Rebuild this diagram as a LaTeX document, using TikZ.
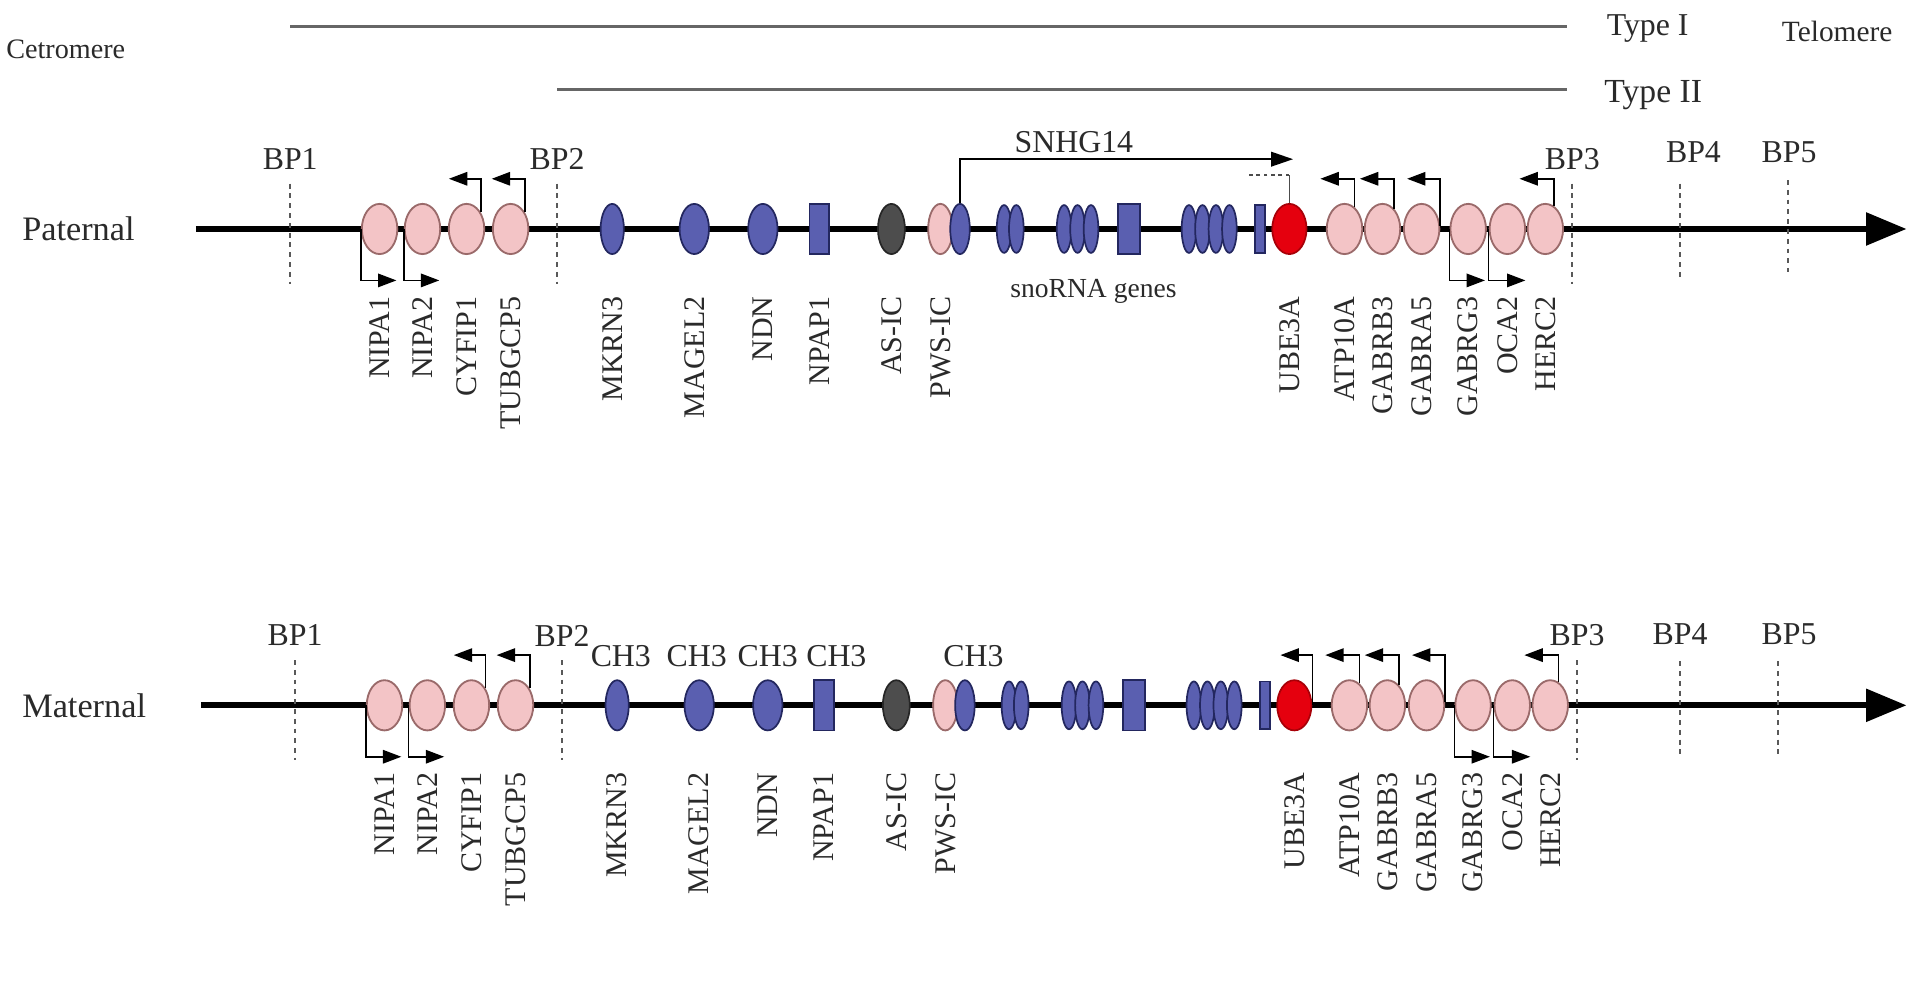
\documentclass[tikz,border=0pt]{standalone}
\usepackage{fontspec}
\setmainfont{Liberation Serif}
\usetikzlibrary{arrows.meta,calc,shapes.geometric}
\definecolor{txt}{HTML}{2A2A2A}
\definecolor{pinkf}{HTML}{F3C4C6}
\definecolor{pinkd}{HTML}{9A6A6A}
\definecolor{bluef}{HTML}{5A5FB0}
\definecolor{blued}{HTML}{23275F}
\definecolor{grayf}{HTML}{4D4D4D}
\definecolor{redf}{HTML}{E5000E}
\definecolor{redd}{HTML}{A80008}
\tikzset{
 chrom/.style={line width=4.8pt,-{Triangle[length=33pt,width=26pt]}},
 typeline/.style={draw=black!60,line width=2.5pt},
 bpline/.style={draw=black!65,line width=1.5pt,dash pattern=on 4pt off 4pt},
 bplab/.style={font=\fontsize{26}{26}\selectfont,text=txt,inner sep=0pt},
 rowlab/.style={font=\fontsize{26}{26}\selectfont,text=txt,inner sep=0pt,anchor=west},
 pg/.style={ellipse,draw=pinkd,fill=pinkf,line width=1.5pt,minimum width=29pt,minimum height=41pt,inner sep=0pt},
 bg/.style={ellipse,draw=blued,fill=bluef,line width=1.4pt,minimum height=41pt,inner sep=0pt},
 sno/.style={bg,minimum width=12pt,minimum height=39pt},
 br/.style={rectangle,draw=blued,fill=bluef,line width=1.4pt,minimum height=41pt,inner sep=0pt},
 gg/.style={ellipse,draw=black!85,fill=grayf,line width=1.4pt,minimum width=22pt,minimum height=41pt,inner sep=0pt},
 rg/.style={ellipse,draw=redd,fill=redf,line width=1.4pt,minimum width=28pt,minimum height=41pt,inner sep=0pt},
 glab/.style={rotate=90,anchor=east,font=\fontsize{24.5}{24.5}\selectfont,text=txt,inner sep=0pt},
 tss/.style={line width=1.3pt,-{Triangle[length=15pt,width=11pt]}},
 snarrow/.style={line width=1.4pt,-{Triangle[length=18pt,width=12pt]}},
 stub/.style={draw=black!70,line width=0.9pt},
 dotstub/.style={draw=black!70,line width=1.2pt,dash pattern=on 3pt off 3pt},
}
\newcommand\generow[4]{%
\begin{scope}[shift={(#3,#2)}]
\coordinate (#1up) at (0,-41);
\coordinate (#1dn) at (0,42);
\coordinate (#1lab) at (0,55);
\coordinate (#1bpt) at (0,-37);
\coordinate (#1bpb) at (0,45);
\coordinate (#1bpl) at (0,-57);
\coordinate (#1start) at (160,0);
\coordinate (#1end) at ({1557-#3},0);
\node[rowlab,font=\fontsize{28}{28}\selectfont] (#1name) at ({18-#3},0) {#4};
\draw[chrom] (#1start) -- (#1end);
\foreach \n/\x in {1/237,2/455,3/1284}{
  \coordinate (#1bp\n) at (\x,0);
  \draw[bpline] (#1bp\n |- #1bpt) -- (#1bp\n |- #1bpb);
  \node[bplab] (#1bpl\n) at (#1bp\n |- #1bpl) {BP\n};
}
\node[pg] (#1nipa1) at (310,0) {};
\node[pg] (#1nipa2) at (345,0) {};
\node[pg] (#1cyfip1) at (381,0) {};
\node[pg] (#1tubgcp5) at (417,0) {};
\node[bg,minimum width=19pt] (#1mkrn3) at (500,0) {};
\node[bg,minimum width=24pt] (#1magel2) at (567,0) {};
\node[bg,minimum width=24pt] (#1ndn) at (623,0) {};
\node[br,minimum width=16pt] (#1npap1) at (669,0) {};
\node[gg] (#1asic) at (728,0) {};
\node[pg,minimum width=20pt] (#1pwsic) at (768,0) {};
\node[bg,minimum width=16pt] (#1pwsb) at (784,0) {};
\foreach \k/\x in {a/820,b/830,c/869,d/880,e/891,f/971,g/982,h/993,i/1004}{
  \node[sno] (#1sno\k) at (\x,0) {};
}
\node[br,minimum width=18pt] (#1snor) at (922,0) {};
\node[br,minimum width=8pt,minimum height=39pt] (#1snos) at (1029,0) {};
\node[rg] (#1ube3a) at (1053,0) {};
\node[pg] (#1atp10a) at (1098,0) {};
\node[pg] (#1gabrb3) at (1129,0) {};
\node[pg] (#1gabra5) at (1161,0) {};
\node[pg] (#1gabrg3) at (1199,0) {};
\node[pg] (#1oca2) at (1231,0) {};
\node[pg] (#1herc2) at (1262,0) {};
\foreach \g/\t in {nipa1/NIPA1,nipa2/NIPA2,cyfip1/CYFIP1,tubgcp5/TUBGCP5,mkrn3/MKRN3,magel2/MAGEL2,ndn/NDN,npap1/NPAP1,asic/AS-IC,pwsic/PWS-IC,ube3a/UBE3A,atp10a/ATP10A,gabrb3/GABRB3,gabra5/GABRA5,gabrg3/GABRG3,oca2/OCA2,herc2/HERC2}{
  \node[glab] (#1\g-l) at (#1\g |- #1lab) {\t};
}
\draw[tss] (#1nipa1.west) -- (#1nipa1.west |- #1dn) -- ++(29,0);
\draw[tss] (#1nipa2.west) -- (#1nipa2.west |- #1dn) -- ++(29,0);
\draw[tss] (#1gabrg3.west) -- (#1gabrg3.west |- #1dn) -- ++(29,0);
\draw[tss] (#1oca2.west) -- (#1oca2.west |- #1dn) -- ++(30,0);
\draw[tss] (#1cyfip1.50) -- (#1cyfip1.50 |- #1up) -- ++(-26,0);
\draw[tss] (#1tubgcp5.50) -- (#1tubgcp5.50 |- #1up) -- ++(-27,0);
\draw[tss] (#1atp10a.65) -- (#1atp10a.65 |- #1up) -- ++(-28,0);
\draw[tss] (#1gabrb3.60) -- (#1gabrb3.60 |- #1up) -- ++(-28,0);
\draw[tss] (#1gabra5.10) -- (#1gabra5.10 |- #1up) -- ++(-27,0);
\draw[tss] (#1herc2.70) -- (#1herc2.70 |- #1up) -- ++(-28,0);
\end{scope}}
\begin{document}
\begin{tikzpicture}[x=1pt,y=-1pt]
\useasboundingbox (0,0) rectangle (1568,811);
\fill[white] (0,0) rectangle (1568,811);
% top type lines
\coordinate (t1a) at (237,22);
\coordinate (t1b) at (1280,22);
\coordinate (t2a) at (455,73);
\coordinate (t2b) at (1280,73);
\draw[typeline] (t1a) -- (t1b);
\draw[typeline] (t2a) -- (t2b);
\node[rowlab] (type1) at (1312,23) {Type I};
\node[rowlab,font=\fontsize{27.5}{27.5}\selectfont] (type2) at (1310,78) {Type II};
\node[rowlab,font=\fontsize{24}{24}\selectfont] (telo) at (1455,26) {Telomere};
\node[rowlab,font=\fontsize{23}{23}\selectfont] (cent) at (5,40) {Cetromere};
% paternal
\generow{p-}{187}{0}{Paternal}
\coordinate (p-bp4) at (1372,187);
\coordinate (p-bp5) at (1460,187);
\draw[bpline] (1372,150) -- (1372,228);
\draw[bpline] (1460,147) -- (1460,222);
\node[bplab] (p-bpl4) at (1383,124) {BP4};
\node[bplab] (p-bpl5) at (1461,124) {BP5};
\coordinate (p-sn) at (0,130);
\coordinate (p-snend) at (1056,130);
\draw[snarrow] (p-pwsb.north) -- (p-pwsb.north |- p-sn) -- (p-snend);
\node[bplab] (snhg) at (877,116) {SNHG14};
\node[bplab,font=\fontsize{22.5}{22.5}\selectfont] (snolab) at (893,238) {snoRNA genes};
\coordinate (p-stubtop) at (0,143);
\draw[stub] (p-ube3a.north) -- (p-ube3a.north |- p-stubtop);
\draw[dotstub] (p-ube3a.north |- p-stubtop) -- ++(-34,0);
% maternal
\generow{m-}{576}{4}{Maternal}
\draw[bpline] (1372,540) -- (1372,618);
\draw[bpline] (1452,540) -- (1452,618);
\node[bplab] (m-bpl4) at (1372,518) {BP4};
\node[bplab] (m-bpl5) at (1461,518) {BP5};
\coordinate (m-up2) at (0,535);
\draw[tss] (m-ube3a.east) -- (m-ube3a.east |- m-up2) -- ++(-26,0);
\foreach \x [count=\i] in {507,569,627,683,795}{
  \node[bplab] (ch3\i) at (\x,536) {CH3};
}
\end{tikzpicture}
\end{document}
